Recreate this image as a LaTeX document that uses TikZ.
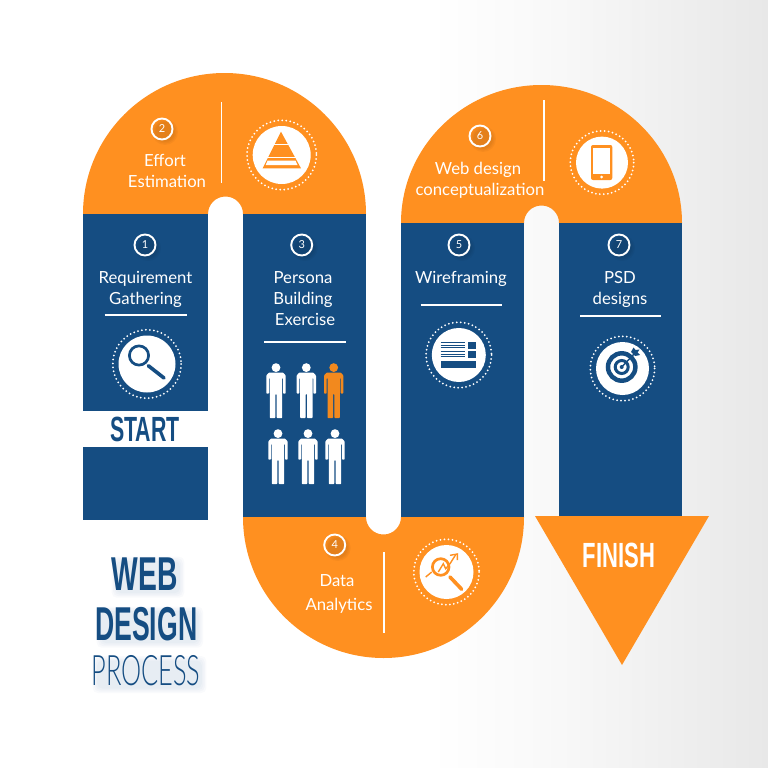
\documentclass[tikz,border=0pt]{standalone}
\usepackage{fontspec}
\setmainfont{Lato}
\newfontfamily\titlefont{Liberation Sans}
\newfontfamily\thinfont{Lato Light}
\definecolor{navy}{HTML}{154D82}
\definecolor{amber}{HTML}{FF9020}
\definecolor{bgmid}{HTML}{F8F8F8}
\definecolor{bgend}{HTML}{E8E8E8}
\tikzset{
 x=1pt,y=-1pt,
 every node/.style={inner sep=0pt,outer sep=0pt},
 label text/.style={text=white,font=\fontsize{16.7}{18}\selectfont,anchor=center,text height=14.5pt,text depth=2pt},
 num ring/.style={circle,draw=white,line width=1.9pt,minimum size=21pt,text=white,font=\fontsize{11}{12}\selectfont},
 rule line/.style={draw=white,line width=1.2pt},
 icon disc/.style={fill=white},
 icon ring/.style={draw=white,line width=2pt,dash pattern=on 0pt off 4pt,line cap=round},
}
\newcommand{\iconbase}[3]{%
 \fill[icon disc] (#1,#2) circle[radius=#3];
 \draw[icon ring] (#1,#2) circle[radius=#3+5.7];}
\newcommand{\persona}[3]{%
 \begin{scope}[shift={(#1,#2)}]
 \fill[#3] (0,4.6) circle[radius=4.4];
 \fill[#3,rounded corners=0.7pt] (-9.7,30.5) -- (-9.7,12.5) -- (-7,9.5) -- (7,9.5) -- (9.7,12.5) -- (9.7,30.5) -- (7,30.5) -- (7,15) -- (6.2,15) -- (6.2,55) -- (0.7,55) -- (0.7,31) -- (-0.7,31) -- (-0.7,55) -- (-6.2,55) -- (-6.2,15) -- (-7,15) -- (-7,30.5) -- cycle;
 \end{scope}}
\newcommand{\softhaze}[4]{%
 \foreach \gr in {0,1.5,3,4.5}{\fill[navy,opacity=0.022,rounded corners=5pt] (#1+\gr,#2+\gr) rectangle (#3+7-\gr,#4+7-\gr);}}
\newcommand{\softdot}[3]{%
 \foreach \gr in {0,1.5,3}{\fill[black,opacity=0.035] (#1+3,#2+3) circle[radius=#3-\gr];}}
\begin{document}
\begin{tikzpicture}
\useasboundingbox (0,0) rectangle (768,768);
\fill[white] (0,0) rectangle (430,768);
\shade[left color=white,right color=bgmid] (430,0) rectangle (560,768);
\shade[left color=bgmid,right color=bgend] (560,0) rectangle (768,768);
% arches with their rounded notches
\fill[amber] (83,214) arc[start angle=180,end angle=360,x radius=141.5,y radius=141] -- (243,214) arc[start angle=0,end angle=-180,radius=17.5] -- cycle;
\fill[amber] (243,517) arc[start angle=180,end angle=0,x radius=140.5,y radius=141] -- (401,517) arc[start angle=0,end angle=180,radius=17.5] -- cycle;
\fill[amber] (401,223) arc[start angle=180,end angle=360,x radius=140.5,y radius=138] -- (559,223) arc[start angle=0,end angle=-180,radius=17.5] -- cycle;
% columns
\fill[navy] (83,214) rectangle (208,411);
\fill[navy] (83,447) rectangle (208,520);
\fill[navy] (243,214) rectangle (366,517);
\fill[navy] (401,223) rectangle (524,517);
\fill[navy] (559,223) rectangle (682,516);
% arrow
\fill[amber] (535,516) -- (709,516) -- (622,665) -- cycle;
% rules
\draw[rule line] (221.7,102) -- (221.7,183);
\draw[rule line] (544,100) -- (544,181);
\draw[rule line] (384,552) -- (384,633);
\draw[rule line] (104.5,315) -- (186.5,315);
\draw[rule line] (264,342) -- (346,342);
\draw[rule line] (420.5,305) -- (502,305);
\draw[rule line] (580,316) -- (661,316);
% soft shadows
\softdot{145}{245}{13}
\softdot{162}{129}{13}
\softdot{301.7}{245}{13}
\softdot{334.7}{545}{13}
\softdot{459}{245}{13}
\softdot{480}{136}{13}
\softdot{619}{245}{13}
\softhaze{111.7}{556.7}{177.3}{590.7}
\softhaze{96.7}{606.7}{196}{640.7}
\softhaze{92.7}{656}{199.3}{686}
% numbers
\node[num ring] (n1) at (145,245) {1};
\node[num ring] (n2) at (162,129) {2};
\node[num ring] (n3) at (301.7,245) {3};
\node[num ring] (n4) at (334.7,545) {4};
\node[num ring] (n5) at (459,245) {5};
\node[num ring] (n6) at (480,136) {6};
\node[num ring] (n7) at (619,245) {7};
% labels
\node[label text] (t1a) at (145.5,277) {Requirement};
\node[label text] (t1b) at (145.5,298) {Gathering};
\node[label text] (t2a) at (165,160) {Effort};
\node[label text] (t2b) at (167,181) {Estimation};
\node[label text] (t3a) at (303,277) {Persona};
\node[label text] (t3b) at (303,298) {Building};
\node[label text] (t3c) at (305,319) {Exercise};
\node[label text] (t4a) at (337,580) {Data};
\node[label text] (t4b) at (339,604) {Analytics};
\node[label text] (t5a) at (461,277) {Wireframing};
\node[label text] (t6a) at (478,168) {Web design};
\node[label text] (t6b) at (480,189) {conceptualization};
\node[label text] (t7a) at (620,277) {PSD};
\node[label text] (t7b) at (620,298) {designs};
% titles
\node[text=navy] (start) at (145,429) {\scalebox{0.61}[1]{\fontsize{35}{35}\titlefont\bfseries START}};
\node[text=white] (finish) at (619,555) {\scalebox{0.63}[1]{\fontsize{35}{35}\titlefont\bfseries FINISH}};
\node[text=navy] (web) at (144.5,573.7) {\scalebox{0.595}[1]{\fontsize{47.5}{47.5}\titlefont\bfseries WEB}};
\node[text=navy] (design) at (146.3,623.7) {\scalebox{0.56}[1]{\fontsize{47.5}{47.5}\titlefont\bfseries DESIGN}};
\node[text=navy] (process) at (146,671) {\scalebox{0.604}[1]{\fontsize{42}{42}\thinfont PROCESS}};
% icon bases
\iconbase{147}{364}{28.5}
\iconbase{281.7}{155}{29}
\iconbase{446.5}{572}{27}
\iconbase{458.8}{355}{27}
\iconbase{602}{162.6}{26}
\iconbase{622.5}{368.5}{26.5}
% people
\persona{276}{363}{white}
\persona{306.3}{363}{white}
\persona{333.7}{363}{amber!95!black}
\persona{278}{429}{white}
\persona{308}{429}{white}
\persona{335}{429}{white}
% magnifier
\draw[navy,line width=2.7pt] (139,355.5) circle[radius=9.6];
\draw[navy,line width=3.6pt,line cap=round] (148.3,365.7) -- (164,378);
% pyramid
\fill[amber] (281,131.7) -- (301,168.3) -- (262.7,168.3) -- cycle;
\draw[white,line width=1pt] (262,144.3) -- (300,144.3);
\draw[white,line width=1pt] (262,157.3) -- (300,157.3);
\fill[white] (267.5,160.7) -- (295.5,160.7) -- (297.5,165) -- (265.7,165) -- cycle;
% phone
\fill[amber,rounded corners=2pt] (591,145) rectangle (612.3,180);
\fill[white] (593.3,148.3) rectangle (610,174.3);
\fill[white] (601.7,177) circle[radius=1.5];
% wireframe
\foreach \yy in {342.3,345,347.5,351.7,354.2,356.8}{\draw[navy,line width=0.9pt] (440.7,\yy) -- (465.3,\yy);}
\fill[navy] (468,342) rectangle (476,349);
\fill[navy] (468,351) rectangle (476,357.7);
\fill[navy] (440.7,361) rectangle (476,368);
% target
\draw[navy,line width=4.5pt] (621.7,367) circle[radius=13.7];
\draw[navy,line width=3pt] (621.7,367) circle[radius=6.5];
\fill[navy] (621.7,367) circle[radius=2];
\draw[navy,line width=1.4pt] (621.7,367) -- (634,354);
\fill[navy] (631,352) -- (633.5,347.5) -- (635.5,350) -- (639.5,349.5) -- (637.5,352.5) -- (640,355) -- (635,356) -- cycle;
% analytics
\draw[amber,line width=2.7pt] (440.7,567) circle[radius=8.3];
\draw[amber,line width=3.6pt,line cap=round] (450,577) -- (461.7,589.3);
\draw[amber,line width=1.4pt] (425.7,577) -- (431.7,572);
\draw[amber,line width=1.4pt] (438.3,572) -- (443.3,563.7) -- (445.7,568.7) -- (450,563.7) -- (455.5,555);
\draw[amber,line width=1.4pt] (450,555.3) -- (457.3,554) -- (457.3,560);
\end{tikzpicture}
\end{document}
